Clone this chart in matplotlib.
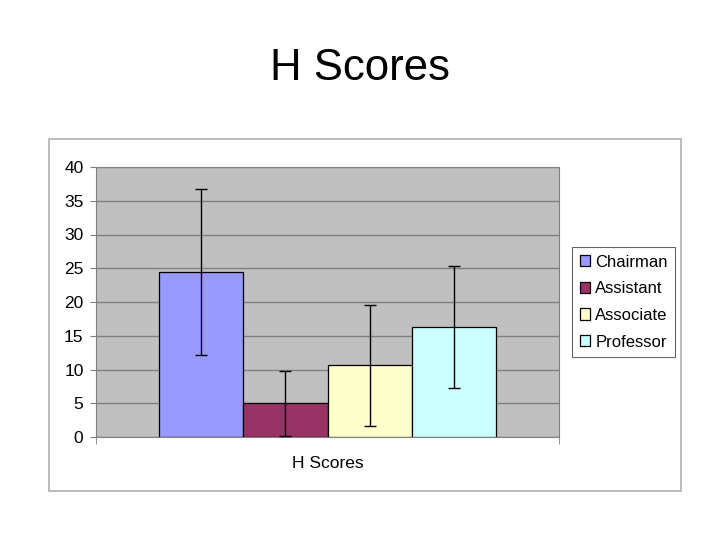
import matplotlib
matplotlib.use("Agg")
import matplotlib.pyplot as plt
from matplotlib.patches import Rectangle

plt.rcParams['font.family'] = ['Liberation Sans', 'DejaVu Sans']

# data
groups = ["Chairman", "Assistant", "Associate", "Professor"]
means = [24.5, 5.0, 10.6, 16.3]
errors = [12.3, 4.8, 9.0, 9.1]
colors = ["#9999FF", "#993366", "#FFFFCC", "#CCFFFF"]
category = "H Scores"
yticks = [0, 5, 10, 15, 20, 25, 30, 35, 40]

W, H = 720, 540
fig = plt.figure(figsize=(7.2, 5.4), dpi=100)
fig.patch.set_facecolor("white")

# outer chart frame
fig.patches.append(Rectangle((49 / W, 1 - 491 / H), 632 / W, 352 / H,
                             transform=fig.transFigure, fill=False,
                             edgecolor="#B0B0B0", linewidth=1.2))

fig.text(0.5, 1 - 69 / H, "H Scores", ha="center", va="center", fontsize=31.5)

ax = fig.add_axes([96 / W, 1 - 437 / H, 463 / W, 270 / H])
ax.set_facecolor("#C0C0C0")

bar_w = 0.182
n = len(groups)
for i, (g, m, e, c) in enumerate(zip(groups, means, errors, colors)):
    x = (i - (n - 1) / 2) * bar_w
    ax.bar(x, m, width=bar_w, color=c, edgecolor="black", linewidth=0.9,
           label=g, zorder=3)
    ax.errorbar(x, m, yerr=e, color="black", linewidth=1, capsize=4,
                capthick=1, zorder=4)

ax.set_xlim(-0.5, 0.5)
ax.set_ylim(0, 40)
ax.set_yticks(yticks)
ax.yaxis.grid(True, color="#808080", linewidth=1)
ax.set_axisbelow(True)
ax.tick_params(axis="y", labelsize=12.5, length=4, color="#808080", pad=5)
ax.set_xticks([0])
ax.set_xticklabels([category], fontsize=12.5)
ax.set_xticks([-0.5, 0.5], minor=True)
ax.tick_params(axis="x", which="major", length=0, pad=14)
ax.tick_params(axis="x", which="minor", length=5, color="#808080")
for s in ["top", "right", "left", "bottom"]:
    ax.spines[s].set_color("#808080")

leg = fig.legend(loc="upper left", bbox_to_anchor=(572 / W, 1 - 247 / H),
                 fontsize=12, frameon=True, fancybox=False,
                 handlelength=0.65, handleheight=0.65, handletextpad=0.3,
                 labelspacing=0.7, borderpad=0.45, borderaxespad=0)
leg.get_frame().set_edgecolor("#404040")
leg.get_frame().set_linewidth(0.8)

fig.savefig("out.png", dpi=100)
